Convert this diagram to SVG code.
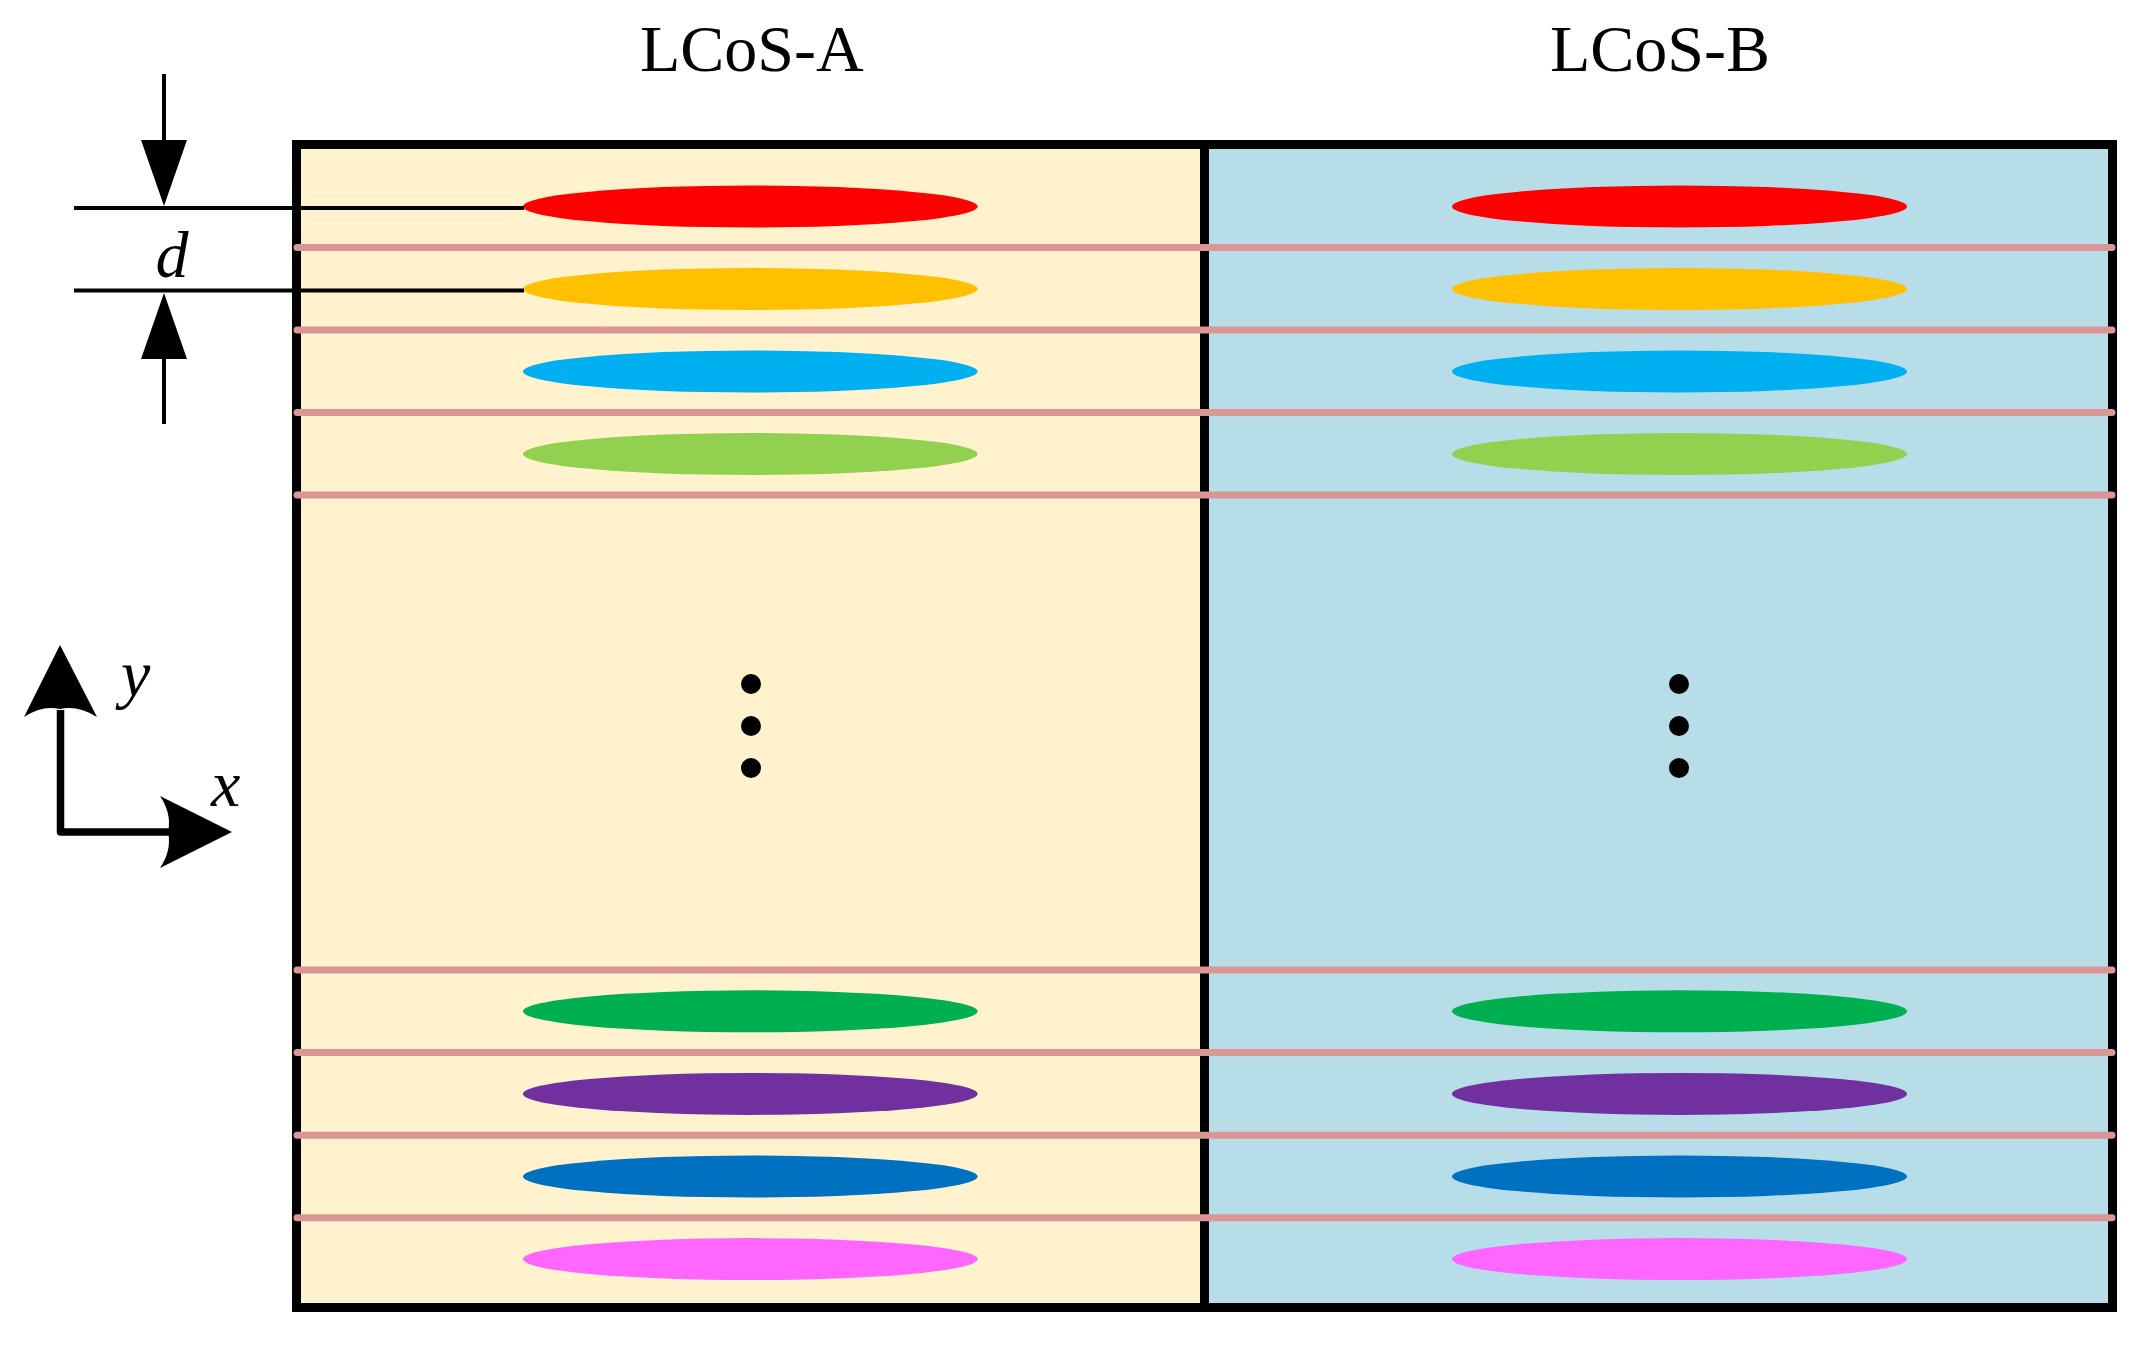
<svg xmlns="http://www.w3.org/2000/svg" width="2153" height="1346" viewBox="0 0 2153 1346">
<style>
.lbl{font-family:"Liberation Serif","Times New Roman",serif;font-size:66px;fill:#000}
.it{font-family:"Liberation Serif","Times New Roman",serif;font-size:66px;font-style:italic;fill:#000}
.sep{stroke:#D99694;stroke-width:7;stroke-linecap:round}
.dim{stroke:#000;stroke-width:4;fill:none}
</style>
<rect width="2153" height="1346" fill="#fff"/>
<g id="panel-A">
<rect x="296.5" y="144.5" width="908" height="1163" fill="#FFF2CC"/>
<text class="lbl" x="640" y="71">LCoS-A</text>
</g>
<g id="panel-B">
<rect x="1204.5" y="144.5" width="908" height="1163" fill="#B7DEE8"/>
<text class="lbl" x="1550" y="71">LCoS-B</text>
</g>
<g id="frame" fill="none" stroke="#000" stroke-width="9">
<rect x="296.5" y="144.5" width="1816" height="1163"/>
<line x1="1204.5" y1="144.5" x2="1204.5" y2="1307.5"/>
</g>
<g id="separators">
<line class="sep" x1="297" y1="247.5" x2="2112" y2="247.5"/>
<line class="sep" x1="297" y1="330" x2="2112" y2="330"/>
<line class="sep" x1="297" y1="412.5" x2="2112" y2="412.5"/>
<line class="sep" x1="297" y1="495" x2="2112" y2="495"/>
<line class="sep" x1="297" y1="970" x2="2112" y2="970"/>
<line class="sep" x1="297" y1="1052.6" x2="2112" y2="1052.6"/>
<line class="sep" x1="297" y1="1135.2" x2="2112" y2="1135.2"/>
<line class="sep" x1="297" y1="1217.8" x2="2112" y2="1217.8"/>
</g>
<g id="beams-A">
<ellipse cx="750.3" cy="206.5" rx="227.3" ry="21" fill="#FF0000"/>
<ellipse cx="750.3" cy="289" rx="227.3" ry="21" fill="#FFC000"/>
<ellipse cx="750.3" cy="371.5" rx="227.3" ry="21" fill="#00B0F0"/>
<ellipse cx="750.3" cy="454" rx="227.3" ry="21" fill="#92D050"/>
<ellipse cx="750.3" cy="1011.3" rx="227.3" ry="21" fill="#00B050"/>
<ellipse cx="750.3" cy="1093.9" rx="227.3" ry="21" fill="#7030A0"/>
<ellipse cx="750.3" cy="1176.5" rx="227.3" ry="21" fill="#0070C0"/>
<ellipse cx="750.3" cy="1259.1" rx="227.3" ry="21" fill="#FF66FF"/>
<circle cx="751" cy="684" r="10"/>
<circle cx="751" cy="726" r="10"/>
<circle cx="751" cy="768" r="10"/>
</g>
<g id="beams-B">
<ellipse cx="1679.5" cy="206.5" rx="227.5" ry="21" fill="#FF0000"/>
<ellipse cx="1679.5" cy="289" rx="227.5" ry="21" fill="#FFC000"/>
<ellipse cx="1679.5" cy="371.5" rx="227.5" ry="21" fill="#00B0F0"/>
<ellipse cx="1679.5" cy="454" rx="227.5" ry="21" fill="#92D050"/>
<ellipse cx="1679.5" cy="1011.3" rx="227.5" ry="21" fill="#00B050"/>
<ellipse cx="1679.5" cy="1093.9" rx="227.5" ry="21" fill="#7030A0"/>
<ellipse cx="1679.5" cy="1176.5" rx="227.5" ry="21" fill="#0070C0"/>
<ellipse cx="1679.5" cy="1259.1" rx="227.5" ry="21" fill="#FF66FF"/>
<circle cx="1679" cy="684" r="10"/>
<circle cx="1679" cy="726" r="10"/>
<circle cx="1679" cy="768" r="10"/>
</g>
<g id="dimension-d">
<line class="dim" x1="74" y1="208" x2="524" y2="208"/>
<line class="dim" x1="74" y1="290.5" x2="524" y2="290.5"/>
<line class="dim" x1="164" y1="74" x2="164" y2="142"/>
<polygon points="141,140 187,140 164,206" fill="#000"/>
<line class="dim" x1="164" y1="357" x2="164" y2="424"/>
<polygon points="141,359 187,359 164,293" fill="#000"/>
<text class="it" x="172" y="277" text-anchor="middle">d</text>
</g>
<g id="axes">
<polyline points="60.5,710 60.5,832 170,832" fill="none" stroke="#000" stroke-width="7.5" stroke-linejoin="round"/>
<path d="M60,645 L97,717 Q78,705 60,709 Q42,705 24,717 Z" fill="#000"/>
<path d="M232,832 L160,796 Q172,814 168,832 Q172,850 160,868 Z" fill="#000"/>
<text class="it" x="121" y="696">y</text>
<text class="it" x="211" y="806">x</text>
</g>
</svg>
